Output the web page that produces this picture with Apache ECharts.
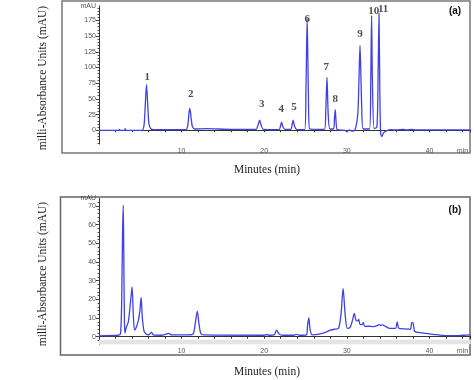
<!DOCTYPE html>
<html>
<head>
<meta charset="utf-8">
<script src="https://cdn.jsdelivr.net/npm/echarts@6/dist/echarts.min.js"></script>
<style>
html,body{margin:0;padding:0;background:#fff;}
#c{width:474px;height:380px;}
</style>
</head>
<body>
<div id="c"></div>
<script>
// ---- Panel (a): standard mixture chromatogram ----
const timeA = [0, 2.4, 2.47, 2.54, 3.1, 3.17, 3.24, 5.2, 5.45, 5.6, 5.75, 5.9, 6.05, 6.3, 6.6,
  10.5, 10.75, 10.9, 11.0, 11.15, 11.3, 11.6, 13, 16, 19.0, 19.25, 19.45, 19.65, 19.9,
  21.8, 22.0, 22.1, 22.25, 22.5, 23.2, 23.4, 23.5, 23.65, 23.9,
  24.9, 25.05, 25.2, 25.35, 25.5, 27.3, 27.45, 27.6, 27.75, 27.95,
  28.4, 28.5, 28.6, 28.7, 28.85, 29.8, 30.0, 30.3, 30.6, 31.0,
  31.35, 31.6, 31.8, 32.0, 32.75, 32.9, 33.0, 33.1, 33.3, 33.65, 33.8, 33.9, 34.0,
  34.1, 34.25, 34.45, 34.8, 35.3, 36, 36.8, 37.3, 37.8, 38.3, 40, 45];
const valueA = [0, 0, 1.5, 0, 0, 2.5, 0, 0, 8, 40, 73, 40, 10, 2, 1,
  1, 8, 28, 35, 20, 6, 2, 2.5, 1.5, 1.5, 8, 16, 7, 1.5,
  1.2, 8, 13, 6, 1.5, 1.5, 10, 16, 8, 1.5,
  1, 60, 178, 60, 2, 1.5, 30, 84, 25, 2,
  2, 18, 33, 14, 1, 0, -2, 0.5, -1.5, 0.5,
  30, 135, 40, 2, 2, 80, 183, 80, 3, 5, 100, 186, 60,
  -5, -10, -4, -1, 1, 0.5, 1.5, 0.8, 1.5, 0.5, 0.5, 0.5];
const peakNames = ['1','2','3','4','5','6','7','8','9','10','11'];
const peakLabelTime = [5.85, 11.1, 19.7, 22.07, 23.6, 25.2, 27.5, 28.6, 31.6, 33.25, 34.4];
const peakLabelValue = [85, 58, 42, 33.5, 37.5, 177, 101, 49, 153, 189, 193];
const yTicksA = [0, 25, 50, 75, 100, 125, 150, 175];

// ---- Panel (b): sample chromatogram ----
const timeB = [0, 2.3, 2.6, 2.75, 2.85, 2.94, 3.0, 3.08, 3.15, 3.3, 3.55, 3.8, 4.0, 4.15, 4.3,
  4.5, 4.75, 4.95, 5.1, 5.25, 5.45, 5.7, 6.0, 6.35, 6.6, 7.5, 8.2, 8.4, 8.8,
  10.8, 11.4, 11.65, 11.9, 12.1, 12.35, 12.8, 20.0, 20.3, 20.6, 21.2, 21.5, 21.8, 22.3,
  23.6, 23.9, 24.3, 25.1, 25.25, 25.4, 25.55, 25.8, 26.5, 27.5, 28.0, 28.5, 29.0,
  29.3, 29.55, 29.8, 30.05, 30.4, 30.7, 30.9, 31.1, 31.3, 31.45, 31.6, 31.85, 32.0, 32.15,
  32.6, 33.2, 33.7, 33.9, 34.1, 34.3, 34.7, 35.2, 35.9, 36.1, 36.3, 37.0, 37.7, 37.85, 38.0,
  38.2, 38.6, 39.5, 40.5, 42.0, 43.5, 44.5, 45];
const valueB = [0.5, 0.8, 1.5, 20, 55, 70.5, 45, 8, 2, 5, 8, 18, 26.7, 12, 3.5,
  5, 8.5, 14, 21, 10, 3, 1.5, 1, 2.3, 1, 0.8, 1.5, 1.8, 1,
  1, 1.5, 7, 13.7, 7, 1.5, 1, 0.8, 1.2, 0.8, 1, 3.5, 1.5, 0.8,
  0.8, 1.3, 0.8, 1, 6, 10.2, 4, 1, 1.2, 2.5, 3.5, 4, 4.5,
  12, 25.9, 12, 4.5, 5, 9, 12.5, 9, 8.5, 9.3, 6.5, 6.5, 7.7, 5.5,
  5.6, 5.4, 6, 6.5, 6, 6.3, 5.5, 4.5, 4.5, 8, 4.5, 4.2, 4, 7.5, 7.5,
  3, 2.3, 1.8, 1.3, 0.6, 0.6, 0.9, 1.0];
const yTicksB = [0, 10, 20, 30, 40, 50, 60, 70];

const xTickLabels = {10: '10', 20: '20', 30: '30', 40: '40', 44: 'min'};
const yTitle = 'milli-Absorbance Units (mAU)';
const xTitle = 'Minutes (min)';

const lineColor = '#4141e2';
const serif = '"Liberation Serif", "Times New Roman", serif';
const sans = '"Liberation Sans", Arial, sans-serif';

function zip(t, v) { return t.map((x, i) => [x, v[i]]); }
function range(a, b, s) { const r = []; for (let x = a; x <= b + 1e-9; x += s) r.push(+x.toFixed(3)); return r; }

const Y_MAX_A = 198, Y_MIN_A = -22, Y_MAX_B = 74, Y_MIN_B = -4;

function xAxisCfg(gi) {
  return {
    type: 'value', gridIndex: gi, min: 0, max: 45, interval: 2,
    axisLine: {show: true, lineStyle: {color: '#333', width: 1}},
    axisTick: {show: true, length: 2, lineStyle: {color: '#333'}},
    axisLabel: {fontSize: 7, color: '#555', fontFamily: sans, margin: 3,
      formatter: v => xTickLabels[v] || ''},
    splitLine: {show: false}
  };
}
function yAxisCfg(gi, min, max, ticks, minor) {
  return [{
    type: 'value', gridIndex: gi, min: min, max: max,
    axisLine: {show: true, lineStyle: {color: '#333', width: 1}},
    axisTick: {show: true, length: 3, customValues: ticks, lineStyle: {color: '#333'}},
    axisLabel: {fontSize: 7, color: '#555', fontFamily: sans, margin: 3,
      customValues: ticks.concat([max]),
      formatter: v => (v === max ? 'mAU' : String(v))},
    splitLine: {show: false}
  }, {
    type: 'value', gridIndex: gi, min: min, max: max, position: 'left',
    axisLine: {show: false},
    axisTick: {show: true, length: 1.5, customValues: minor, lineStyle: {color: '#555'}},
    axisLabel: {show: false},
    splitLine: {show: false}
  }];
}

const chart = echarts.init(document.getElementById('c'), null, {renderer: 'canvas'});
const ya = yAxisCfg(0, Y_MIN_A, Y_MAX_A, yTicksA, range(-20, 195, 5));
const yb = yAxisCfg(1, Y_MIN_B, Y_MAX_B, yTicksB, range(-2, 72, 2));

chart.setOption({
  animation: false,
  backgroundColor: '#fff',
  grid: [
    {left: 99, right: 3.3, top: 5.9, bottom: 235.9, containLabel: false},
    {left: 99, right: 3.3, top: 198.5, bottom: 35.8, containLabel: false}
  ],
  xAxis: [xAxisCfg(0), xAxisCfg(1)],
  yAxis: [ya[0], ya[1], yb[0], yb[1]],
  series: [
    {type: 'line', xAxisIndex: 0, yAxisIndex: 0, data: zip(timeA, valueA),
      showSymbol: false, smooth: 0.25, lineStyle: {color: lineColor, width: 1.3}, z: 3},
    {type: 'scatter', xAxisIndex: 0, yAxisIndex: 0, symbolSize: 0, silent: true, z: 5,
      data: peakNames.map((n, i) => ({name: n, value: [peakLabelTime[i], peakLabelValue[i]]})),
      label: {show: true, position: 'inside', formatter: p => p.name,
        fontFamily: serif, fontSize: 11, fontWeight: 'bold', color: '#222'}},
    {type: 'line', xAxisIndex: 1, yAxisIndex: 2, data: zip(timeB, valueB),
      showSymbol: false, smooth: 0.25, lineStyle: {color: lineColor, width: 1.3}, z: 3,
      markArea: {silent: true, itemStyle: {color: '#e4e4e4'},
        data: [[{yAxis: Y_MIN_B}, {yAxis: -1.6}]]}}
  ],
  graphic: [
    {type: 'rect', shape: {x: 62, y: 1, width: 408, height: 152}, style: {fill: 'none', stroke: '#777', lineWidth: 1.5}, silent: true},
    {type: 'rect', shape: {x: 60.5, y: 197, width: 409.5, height: 158}, style: {fill: 'none', stroke: '#666', lineWidth: 1.5}, silent: true},
    {type: 'text', x: 43, y: 78, rotation: Math.PI / 2, style: {text: yTitle, font: '11.5px ' + serif, fill: '#222', align: 'center', verticalAlign: 'middle'}},
    {type: 'text', x: 43, y: 274, rotation: Math.PI / 2, style: {text: yTitle, font: '11.5px ' + serif, fill: '#222', align: 'center', verticalAlign: 'middle'}},
    {type: 'text', x: 267, y: 170, style: {text: xTitle, font: '11.5px ' + serif, fill: '#222', align: 'center', verticalAlign: 'middle'}},
    {type: 'text', x: 267, y: 372, style: {text: xTitle, font: '11.5px ' + serif, fill: '#222', align: 'center', verticalAlign: 'middle'}},
    {type: 'text', x: 455, y: 11, style: {text: '(a)', font: 'bold 10px ' + sans, fill: '#111', align: 'center', verticalAlign: 'middle'}},
    {type: 'text', x: 455, y: 210, style: {text: '(b)', font: 'bold 10px ' + sans, fill: '#111', align: 'center', verticalAlign: 'middle'}}
  ]
});
</script>
</body>
</html>
